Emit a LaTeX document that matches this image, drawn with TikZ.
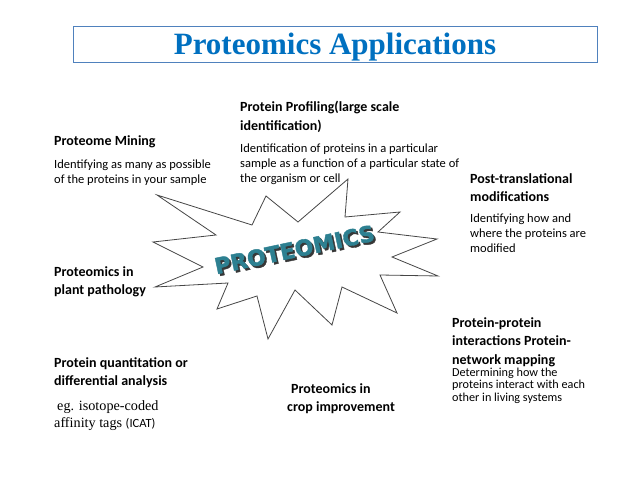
\documentclass[tikz,border=0pt]{standalone}
\usepackage{fontspec}
\setmainfont{Carlito}
\newfontfamily\timesf{Liberation Serif}
\newfontfamily\heavyf{DejaVu Sans}[BoldFeatures={FakeBold=1.8}]
\definecolor{titleblue}{HTML}{0070C0}
\definecolor{boxblue}{HTML}{4F81BD}
\definecolor{wordteal}{RGB}{45,128,145}
\definecolor{wordshadow}{RGB}{55,55,55}
\definecolor{starline}{RGB}{70,70,70}
\begin{document}
\begin{tikzpicture}[x=1pt,y=-1pt,
  head/.style={anchor=north west,inner sep=0pt,align=left,font=\fontsize{14}{18.5}\selectfont\bfseries},
  desc/.style={anchor=north west,inner sep=0pt,align=left,font=\fontsize{12.5}{15}\selectfont},
  smalldesc/.style={anchor=north west,inner sep=0pt,align=left,font=\fontsize{12.2}{12.3}\selectfont},
  serifdesc/.style={anchor=north west,inner sep=0pt,align=left,font=\timesf\fontsize{14.2}{17}\selectfont},
  wordstyle/.style={inner sep=0pt,rotate=12,font=\heavyf\bfseries\fontsize{22}{22}\selectfont}]
\useasboundingbox (0,0) rectangle (638,478);
% title
\node[draw=boxblue,line width=1.3pt,minimum width=524pt,minimum height=36pt,inner sep=0pt,anchor=north west] (titlebox) at (73,26) {};
\node[font=\timesf\bfseries\fontsize{31}{31}\selectfont,text=titleblue,inner sep=0pt] (title) at (335,47) {Proteomics Applications};
% star
\draw[starline,line width=0.8pt,fill=white,line join=miter]
  (157,195) -- (252,225) -- (266,196) -- (298,222) -- (348,179) -- (345,217)
  -- (400,212) -- (378,232) -- (437,239) -- (392,257) -- (438,276) -- (380,275)
  -- (397,313) -- (342,287) -- (332,325) -- (295,290) -- (268,339) -- (257,296)
  -- (217,309) -- (228,283) -- (155,287) -- (203,267) -- (153,242) -- (216,235) -- cycle;
% word
\node[wordstyle,text=wordshadow] (wordsh) at (296.5,251.5) {PROTEOMICS};
\node[wordstyle,text=wordteal] (word) at (294.5,249.5) {PROTEOMICS};
% texts
\node[head] (h1) at (54,135.5) {Proteome Mining};
\node[desc] (d1) at (54,160) {Identifying as many as possible\\of the proteins in your sample};
\node[head] (h2) at (240,101) {Protein Profiling(large scale\\identification)};
\node[desc] (d2) at (240,144) {Identification of proteins in a particular\\sample as a function of a particular state of\\the organism or cell};
\node[head] (h3) at (470,173) {Post-translational\\modifications};
\node[desc] (d3) at (470,214) {Identifying how and\\where the proteins are\\modified};
\node[head] (h4) at (54,266) {Proteomics in\\plant pathology};
\node[head] (h5) at (452,317) {Protein-protein\\interactions Protein-\\network mapping};
\node[smalldesc] (d5) at (452,368) {Determining how the\\proteins interact with each\\other in living systems};
\node[head] (h6) at (54,357) {Protein quantitation or\\differential analysis};
\node[serifdesc] (d6) at (54,400) {\hspace*{3pt}eg. isotope-coded\\affinity tags {\rmfamily\fontsize{12.5}{15}\selectfont(ICAT)}};
\node[head] (h7) at (287,383) {\hspace*{4pt}Proteomics in\\crop improvement};
\end{tikzpicture}
\end{document}
